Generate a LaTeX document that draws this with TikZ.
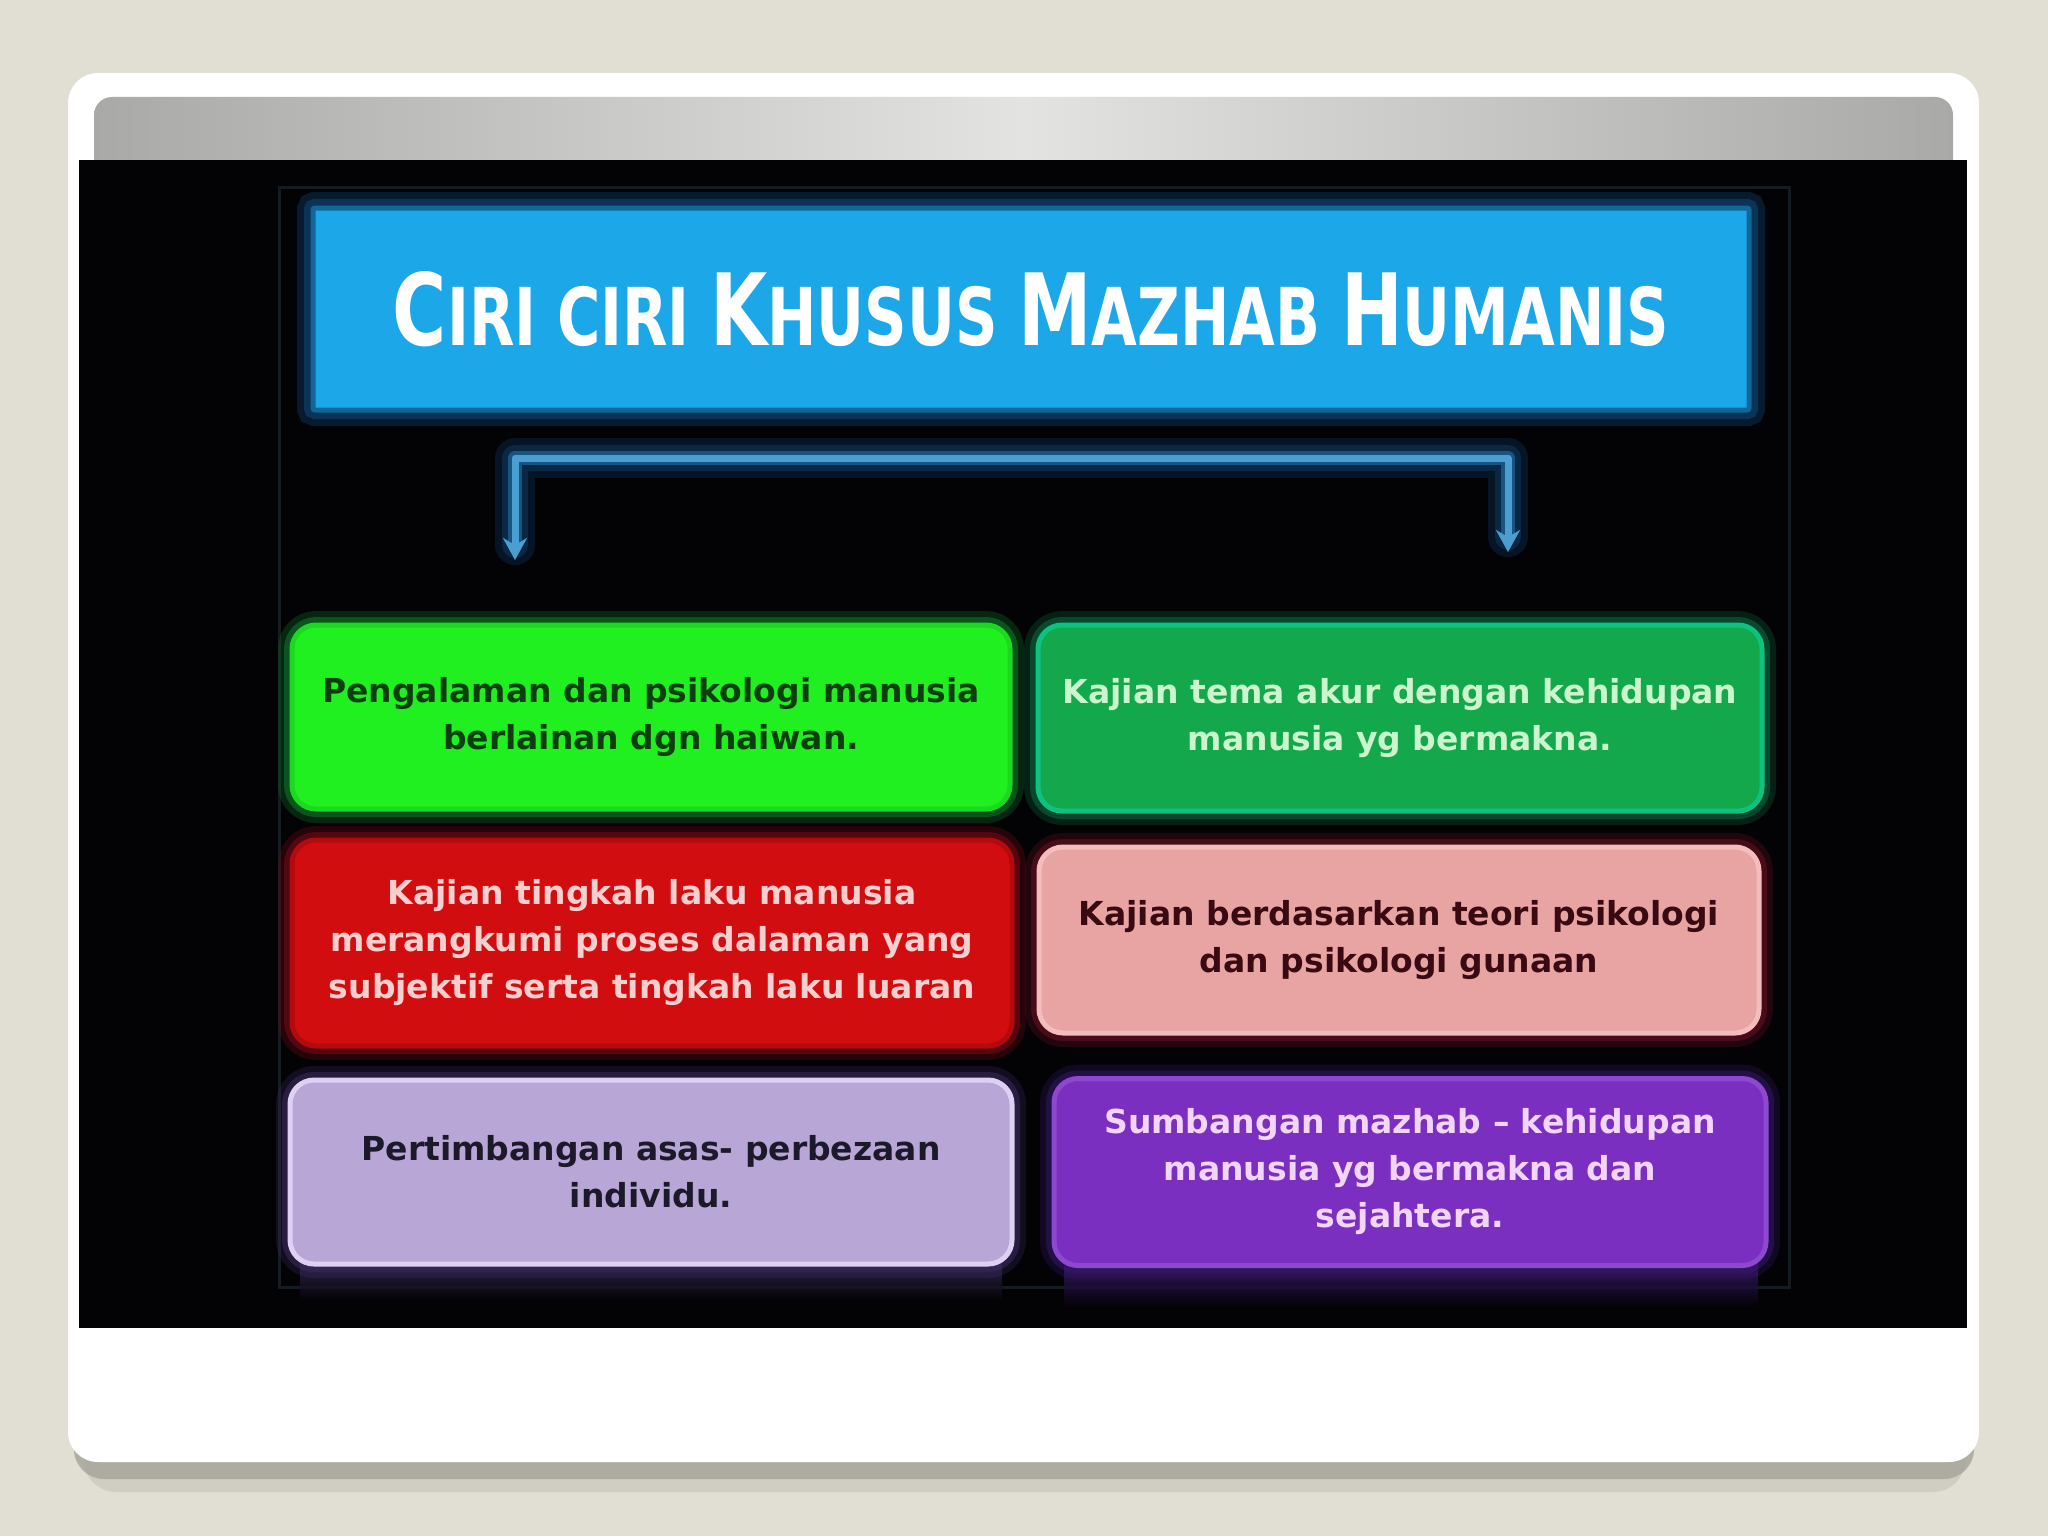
\documentclass[tikz,border=0pt]{standalone}
\usepackage{fontspec}
\setmainfont{DejaVu Sans}
\usepackage{graphicx}
\usetikzlibrary{arrows.meta}

\definecolor{pagebg}{HTML}{E1DED3}
\definecolor{shadowc}{HTML}{A9A79B}
\definecolor{hdredge}{HTML}{A9A9A7}
\definecolor{hdrmid}{HTML}{E3E3E1}
\definecolor{imgblack}{HTML}{030205}
\definecolor{framec}{HTML}{151C21}
\definecolor{titleblue}{HTML}{1CA7E8}
\definecolor{titleglow}{HTML}{0C3A62}
\definecolor{arrowcore}{HTML}{4A9ED2}
\definecolor{arrowglow}{HTML}{0E3A62}
\definecolor{arrowmid}{HTML}{1A5C8E}
\definecolor{gAfill}{HTML}{20F020}
\definecolor{gAglow}{HTML}{0E7A2A}
\definecolor{gAtext}{HTML}{0C3E10}
\definecolor{gBfill}{HTML}{13A84B}
\definecolor{gBglow}{HTML}{0B6A40}
\definecolor{gBtext}{HTML}{CDF5CD}
\definecolor{rAfill}{HTML}{D20D0F}
\definecolor{rAglow}{HTML}{7A0A16}
\definecolor{rAtext}{HTML}{F7CFCF}
\definecolor{pAfill}{HTML}{E8A3A3}
\definecolor{pAedge}{HTML}{F2BDBD}
\definecolor{pAglow}{HTML}{6A1020}
\definecolor{pAtext}{HTML}{3A0A12}
\definecolor{lAfill}{HTML}{B8A7D6}
\definecolor{lAedge}{HTML}{DDD0F2}
\definecolor{lAglow}{HTML}{3A2A5C}
\definecolor{lAtext}{HTML}{1C1A2A}
\definecolor{vAfill}{HTML}{7A2FC0}
\definecolor{vAedge}{HTML}{8E48D0}
\definecolor{vAglow}{HTML}{341868}
\definecolor{vAtext}{HTML}{F2D6FA}

\newcommand\tbigcap[1]{{\fontsize{40}{40}\selectfont #1}}
\newcommand\tsmcap[1]{{\fontsize{32}{32}\selectfont #1}}

\tikzset{
  cbox/.style n args={4}{rounded corners=12pt, fill=#1, draw=#2, line width=2.5pt,
    text=#4, align=center, inner sep=0pt,
    font={\fontsize{16.5pt}{23.5pt}\selectfont\bfseries},
    preaction={draw=#3, line width=14pt, draw opacity=0.3},
    preaction={draw=#3, line width=8pt, draw opacity=0.55}},
  arrowglowA/.style={draw=arrowglow, line width=20pt, draw opacity=0.35, line join=round, line cap=round},
  arrowglowC/.style={draw=arrowglow, line width=13pt, draw opacity=0.5, line join=round, line cap=round},
  arrowglowB/.style={draw=arrowmid, line width=7pt, draw opacity=0.85, line join=round, line cap=round},
  arrowline/.style={draw=arrowcore, line width=3.5pt, line join=round,
    {Stealth[length=11pt,width=12pt]}-{Stealth[length=11pt,width=12pt]}},
}

\begin{document}
\begin{tikzpicture}[x=0.5pt,y=-0.5pt]
\useasboundingbox (0,0) rectangle (2048,1536);
\fill[pagebg] (0,0) rectangle (2048,1536);

% card shadow and card
\fill[shadowc, opacity=0.3, rounded corners=16pt] (84,95) rectangle (1965,1492);
\fill[shadowc, opacity=0.85, rounded corners=15pt] (74,86) rectangle (1974,1479);
\fill[white, rounded corners=15pt] (68,73) rectangle (1979,1462);

% grey header band
\shade[left color=hdredge, right color=hdredge, middle color=hdrmid, rounded corners=9pt]
  (94,97) rectangle (1953,200);

% black picture
\fill[imgblack] (79,160) rectangle (1967,1328);
\draw[framec, line width=1.5pt] (279,187) rectangle (1789,1287);

% soft reflections under the last row
\shade[top color=lAglow, bottom color=imgblack, opacity=0.8] (300,1260) rectangle (1002,1302);
\shade[top color=vAglow!80!vAfill, bottom color=imgblack, opacity=0.8] (1064,1260) rectangle (1758,1308);

% title
\node[rounded corners=1pt, fill=titleblue, draw=titleglow!60!titleblue, line width=2.5pt,
  preaction={draw=titleglow, line width=16pt, draw opacity=0.45},
  preaction={draw=titleglow, line width=9pt, draw opacity=0.8},
  minimum width=718pt, minimum height=101pt, inner sep=0pt, text=white]
  (title) at (1031,309)
  {\raisebox{-5.5pt}{\resizebox{638pt}{37pt}{\bfseries\tbigcap{C}\tsmcap{IRI CIRI }\tbigcap{K}\tsmcap{HUSUS }\tbigcap{M}\tsmcap{AZHAB }\tbigcap{H}\tsmcap{UMANIS}}}};

% connector
\coordinate (aL) at (515,560);
\coordinate (jL) at (515,458);
\coordinate (jR) at (1508,458);
\coordinate (aR) at (1508,552);
\coordinate (gL) at (515,545);
\coordinate (gR) at (1508,537);
\path[arrowglowA] (gL) -- (jL) -- (jR) -- (gR);
\path[arrowglowC] (gL) -- (jL) -- (jR) -- (gR);
\path[arrowglowB] (gL) -- (jL) -- (jR) -- (gR);
\draw[arrowline] (aL) -- (jL) -- (jR) -- (aR);

% boxes
\node[cbox={gAfill}{gAfill!80!gAglow}{gAglow}{gAtext}, minimum width=359pt, minimum height=92pt]
  (b1) at (651,717) {Pengalaman dan psikologi manusia\\berlainan dgn haiwan.};
\node[cbox={gBfill}{gBfill!70!cyan}{gBglow}{gBtext}, minimum width=362pt, minimum height=93pt]
  (b2) at (1400,718) {Kajian tema akur dengan kehidupan\\manusia yg bermakna.};
\node[cbox={rAfill}{rAfill!85!black}{rAglow}{rAtext}, minimum width=360pt, minimum height=103pt]
  (b3) at (652,943) {Kajian tingkah laku manusia\\merangkumi proses dalaman yang\\subjektif serta tingkah laku luaran};
\node[cbox={pAfill}{pAedge}{pAglow}{pAtext}, minimum width=360pt, minimum height=93pt]
  (b4) at (1399,940) {Kajian berdasarkan teori psikologi\\dan psikologi gunaan};
\node[cbox={lAfill}{lAedge}{lAglow}{lAtext}, minimum width=361pt, minimum height=92pt]
  (b5) at (651,1172) {Pertimbangan asas- perbezaan\\individu.};
\node[cbox={vAfill}{vAedge}{vAglow}{vAtext}, minimum width=356pt, minimum height=93.5pt]
  (b6) at (1410,1172) {Sumbangan mazhab -- kehidupan\\manusia yg bermakna dan\\sejahtera.};
\end{tikzpicture}
\end{document}
